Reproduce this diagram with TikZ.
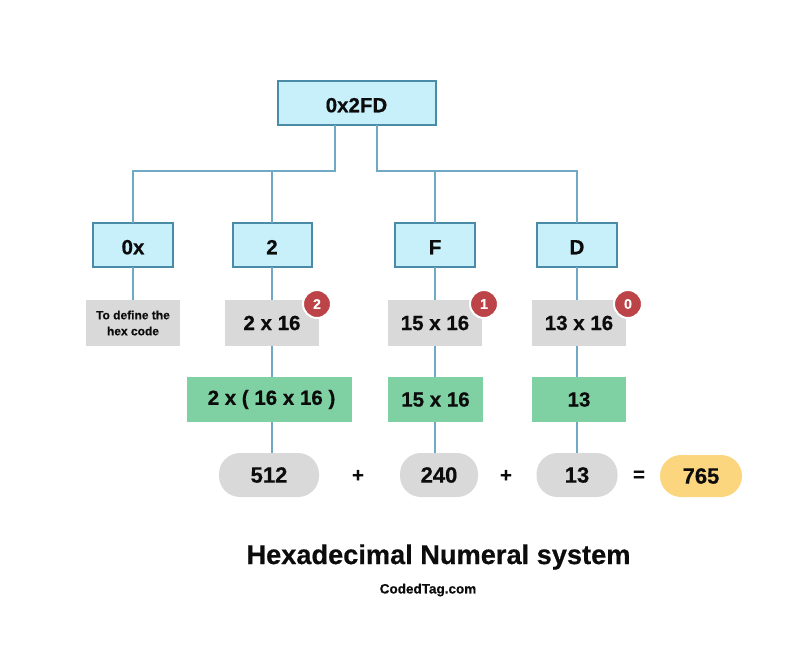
\documentclass[tikz,border=0pt]{standalone}
\usepackage{fontspec}
\setmainfont{Liberation Sans}[BoldFeatures={FakeBold=0.5}]
\definecolor{boxfill}{HTML}{C8F0FA}
\definecolor{boxline}{HTML}{4A8CA8}
\definecolor{conn}{HTML}{6FA9C6}
\definecolor{grayfill}{HTML}{D9D9D9}
\definecolor{greenfill}{HTML}{7FD1A3}
\definecolor{yellowfill}{HTML}{FBD67E}
\definecolor{badge}{HTML}{BC4448}
\definecolor{ink}{HTML}{0C0C0C}
\tikzset{
  base/.style={inner sep=0pt,outer sep=0pt,align=center,text=ink,font=\bfseries\fontsize{20.5}{22}\selectfont},
  bluebox/.style={base,draw=boxline,line width=2pt,fill=boxfill,minimum height=44pt,text height=18.5pt,text depth=0pt},
  graybox/.style={base,fill=grayfill,minimum width=94pt,minimum height=46pt},
  greenbox/.style={base,fill=greenfill,minimum height=45pt},
  pill/.style={base,rounded corners=21pt,fill=grayfill,minimum height=44pt,font=\bfseries\fontsize{22}{24}\selectfont},
  goldpill/.style={pill,fill=yellowfill,minimum height=42pt},
  power/.style={circle,draw=white,line width=2pt,fill=badge,text=white,minimum size=28pt,inner sep=0pt,font=\bfseries\fontsize{14}{15}\selectfont},
  op/.style={base},
  link/.style={draw=conn,line width=1.3pt},
}
\begin{document}
\begin{tikzpicture}[x=1pt,y=-1pt]
\useasboundingbox (0,0) rectangle (800,654);
\coordinate (jl) at (335,171);
\coordinate (jr) at (377,171);
\node[bluebox,minimum width=158pt] (top) at (356.5,103) {0x2FD};
\node[bluebox,minimum width=80pt] (a) at (133,245) {0x};
\node[bluebox,minimum width=79pt] (b) at (272,245) {2};
\node[bluebox,minimum width=80pt] (c) at (435,245) {F};
\node[bluebox,minimum width=80pt] (d) at (577,245) {D};
\node[graybox,font=\bfseries\fontsize{12}{16}\selectfont] (ga) at (133,323) {To define the\\hex code};
\node[graybox] (gb) at (272,323) {2 x 16};
\node[graybox] (gc) at (435,323) {15 x 16};
\node[graybox] (gd) at (579,323) {13 x 16};
\node[greenbox,minimum width=165pt] (nb) at (269,399.5) {\hspace{5pt}2 x ( 16 x 16 )};
\node[greenbox,minimum width=95pt] (nc) at (435.5,399.5) {15 x 16};
\node[greenbox,minimum width=94pt] (nd) at (579,399.5) {13};
\node[pill,minimum width=100pt] (pb) at (269,475) {512};
\node[pill,minimum width=78pt] (pc) at (439,475) {240};
\node[pill,minimum width=81pt] (pd) at (577,475) {13};
\node[goldpill,minimum width=82pt] (pe) at (701,476) {765};
\node[op] (plusa) at (358,476) {+};
\node[op] (plusb) at (506,476) {+};
\node[op] (eq) at (639,476) {=};
\node[power] (ba) at (317,304) {2};
\node[power] (bb) at (484,304) {1};
\node[power] (bc) at (628,304) {0};
\node[base,font=\bfseries\fontsize{27.2}{30}\selectfont] (title) at (438.5,557) {Hexadecimal Numeral system};
\node[base,font=\bfseries\fontsize{13.5}{16}\selectfont] (site) at (428,590) {CodedTag.com};
\draw[link] (jl |- top.south) -- (jl) -- (jl -| a.north) -- (a.north);
\draw[link] (jr |- top.south) -- (jr) -- (jr -| d.north) -- (d.north);
\draw[link] (jl -| b.north) -- (b.north);
\draw[link] (jr -| c.north) -- (c.north);
\draw[link] (a.south) -- (ga.north);
\draw[link] (b.south) -- (gb.north);
\draw[link] (c.south) -- (gc.north);
\draw[link] (d.south) -- (d |- gd.north);
\draw[link] (gb.south) -- (gb |- nb.north);
\draw[link] (gc.south) -- (gc |- nc.north);
\draw[link] (d |- gd.south) -- (d |- nd.north);
\draw[link] (gb |- nb.south) -- (gb |- pb.north);
\draw[link] (gc |- nc.south) -- (gc |- pc.north);
\draw[link] (d |- nd.south) -- (d |- pd.north);
\end{tikzpicture}
\end{document}
